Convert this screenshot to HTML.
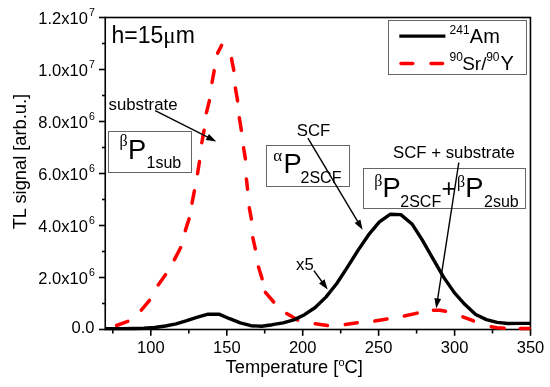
<!DOCTYPE html>
<html><head><meta charset="utf-8"><title>TL glow curves</title>
<style>
html,body{margin:0;padding:0;background:#fff;}
svg{display:block;}
text{font-family:"Liberation Sans", Arial, sans-serif;fill:#000;}
</style></head>
<body>
<svg width="550" height="387" viewBox="0 0 550 387">
<rect width="550" height="387" fill="#fff"/>
<defs><clipPath id="pc"><rect x="100" y="10" width="430.5" height="325"/></clipPath></defs>
<rect x="105.25" y="17.5" width="425.2" height="312.0" fill="none" stroke="#000" stroke-width="1.6"/>
<line x1="99.0" y1="329.5" x2="105.25" y2="329.5" stroke="#000" stroke-width="1.6"/>
<line x1="102.0" y1="303.5" x2="105.25" y2="303.5" stroke="#000" stroke-width="1.6"/>
<line x1="99.0" y1="277.5" x2="105.25" y2="277.5" stroke="#000" stroke-width="1.6"/>
<line x1="102.0" y1="251.5" x2="105.25" y2="251.5" stroke="#000" stroke-width="1.6"/>
<line x1="99.0" y1="225.5" x2="105.25" y2="225.5" stroke="#000" stroke-width="1.6"/>
<line x1="102.0" y1="199.5" x2="105.25" y2="199.5" stroke="#000" stroke-width="1.6"/>
<line x1="99.0" y1="173.5" x2="105.25" y2="173.5" stroke="#000" stroke-width="1.6"/>
<line x1="102.0" y1="147.5" x2="105.25" y2="147.5" stroke="#000" stroke-width="1.6"/>
<line x1="99.0" y1="121.5" x2="105.25" y2="121.5" stroke="#000" stroke-width="1.6"/>
<line x1="102.0" y1="95.5" x2="105.25" y2="95.5" stroke="#000" stroke-width="1.6"/>
<line x1="99.0" y1="69.5" x2="105.25" y2="69.5" stroke="#000" stroke-width="1.6"/>
<line x1="102.0" y1="43.5" x2="105.25" y2="43.5" stroke="#000" stroke-width="1.6"/>
<line x1="99.0" y1="17.5" x2="105.25" y2="17.5" stroke="#000" stroke-width="1.6"/>
<line x1="112.8" y1="329.5" x2="112.8" y2="333.5" stroke="#000" stroke-width="1.6"/>
<line x1="150.8" y1="329.5" x2="150.8" y2="335.8" stroke="#000" stroke-width="1.6"/>
<line x1="188.8" y1="329.5" x2="188.8" y2="333.5" stroke="#000" stroke-width="1.6"/>
<line x1="226.8" y1="329.5" x2="226.8" y2="335.8" stroke="#000" stroke-width="1.6"/>
<line x1="264.7" y1="329.5" x2="264.7" y2="333.5" stroke="#000" stroke-width="1.6"/>
<line x1="302.7" y1="329.5" x2="302.7" y2="335.8" stroke="#000" stroke-width="1.6"/>
<line x1="340.7" y1="329.5" x2="340.7" y2="333.5" stroke="#000" stroke-width="1.6"/>
<line x1="378.6" y1="329.5" x2="378.6" y2="335.8" stroke="#000" stroke-width="1.6"/>
<line x1="416.6" y1="329.5" x2="416.6" y2="333.5" stroke="#000" stroke-width="1.6"/>
<line x1="454.6" y1="329.5" x2="454.6" y2="335.8" stroke="#000" stroke-width="1.6"/>
<line x1="492.5" y1="329.5" x2="492.5" y2="333.5" stroke="#000" stroke-width="1.6"/>
<line x1="530.5" y1="329.5" x2="530.5" y2="335.8" stroke="#000" stroke-width="1.6"/>
<text x="87.9" y="23.5" text-anchor="end" font-size="16.5">1.2x10</text>
<text x="88.9" y="16.1" font-size="10.6">7</text>
<text x="87.9" y="75.5" text-anchor="end" font-size="16.5">1.0x10</text>
<text x="88.9" y="68.1" font-size="10.6">7</text>
<text x="87.9" y="127.5" text-anchor="end" font-size="16.5">8.0x10</text>
<text x="88.9" y="120.1" font-size="10.6">6</text>
<text x="87.9" y="179.5" text-anchor="end" font-size="16.5">6.0x10</text>
<text x="88.9" y="172.1" font-size="10.6">6</text>
<text x="87.9" y="231.5" text-anchor="end" font-size="16.5">4.0x10</text>
<text x="88.9" y="224.1" font-size="10.6">6</text>
<text x="87.9" y="283.5" text-anchor="end" font-size="16.5">2.0x10</text>
<text x="88.9" y="276.1" font-size="10.6">6</text>
<text x="94.5" y="332.8" text-anchor="end" font-size="16.5">0.0</text>
<text x="150.8" y="353.3" text-anchor="middle" font-size="16.5">100</text>
<text x="226.8" y="353.3" text-anchor="middle" font-size="16.5">150</text>
<text x="302.7" y="353.3" text-anchor="middle" font-size="16.5">200</text>
<text x="378.6" y="353.3" text-anchor="middle" font-size="16.5">250</text>
<text x="454.6" y="353.3" text-anchor="middle" font-size="16.5">300</text>
<text x="530.5" y="353.3" text-anchor="middle" font-size="16.5">350</text>
<text x="225.6" y="373" font-size="18.3">Temperature [<tspan font-size="11" dy="-7.5">o</tspan><tspan dy="7.5">C]</tspan></text>
<text transform="translate(25.6,229.3) rotate(-90)" x="0" y="0" font-size="18.3">TL signal [arb.u.]</text>
<text x="111.5" y="43" font-size="23">h=15<tspan style='font-family:"Liberation Serif", "Times New Roman", serif'>&#956;</tspan>m</text>
<rect x="388.5" y="20.5" width="138" height="54" fill="#fff" stroke="#666" stroke-width="1"/>
<line x1="399.3" y1="36.1" x2="445.4" y2="36.1" stroke="#000" stroke-width="3.4"/>
<line x1="401" y1="63.5" x2="412.8" y2="63.5" stroke="#f00" stroke-width="3.4" stroke-linecap="round"/>
<line x1="431" y1="63.5" x2="442.6" y2="63.5" stroke="#f00" stroke-width="3.4" stroke-linecap="round"/>
<text x="449.6" y="33.8" font-size="12">241</text>
<text x="469.8" y="42.8" font-size="20">Am</text>
<text x="449.6" y="60.6" font-size="12">90</text>
<text x="462.2" y="69.8" font-size="19">Sr/</text>
<text x="486.2" y="60.6" font-size="12">90</text>
<text x="500.6" y="69.8" font-size="20">Y</text>
<rect x="108.5" y="131.5" width="83" height="41" fill="none" stroke="#666" stroke-width="1"/>
<rect x="266.5" y="145.5" width="83" height="41" fill="none" stroke="#666" stroke-width="1"/>
<rect x="363.5" y="168.5" width="162" height="40" fill="none" stroke="#666" stroke-width="1"/>
<text x="119.5" y="146" font-size="16" style='font-family:"Liberation Serif", "Times New Roman", serif'>&#946;</text>
<text x="128" y="158.5" font-size="27.3">P</text>
<text x="146.5" y="167.7" font-size="16">1sub</text>
<text x="273.3" y="160.5" font-size="17" style='font-family:"Liberation Serif", "Times New Roman", serif'>&#945;</text>
<text x="283.5" y="172.6" font-size="27.3">P</text>
<text x="300.5" y="182.5" font-size="16">2SCF</text>
<text x="374.3" y="186" font-size="16" style='font-family:"Liberation Serif", "Times New Roman", serif'>&#946;</text>
<text x="382.5" y="196.8" font-size="27.3">P</text>
<text x="400.3" y="206.6" font-size="16">2SCF</text>
<text x="441.5" y="197" font-size="25">+</text>
<text x="457" y="186.5" font-size="16" style='font-family:"Liberation Serif", "Times New Roman", serif'>&#946;</text>
<text x="465.3" y="197.1" font-size="27.3">P</text>
<text x="484" y="206.6" font-size="16">2sub</text>
<text x="108.5" y="109.8" font-size="16.8">substrate</text>
<text x="296.8" y="135.8" font-size="16.8">SCF</text>
<text x="393" y="158.3" font-size="16.8">SCF + substrate</text>
<text x="296" y="269.8" font-size="16.8">x5</text>
<g clip-path="url(#pc)">
<polyline points="116.6,325.5 127.8,321.4" fill="none" stroke="#f00" stroke-width="3.5" stroke-linecap="round" stroke-linejoin="round"/>
<polyline points="141.3,310.2 149.5,300.3" fill="none" stroke="#f00" stroke-width="3.5" stroke-linecap="round" stroke-linejoin="round"/>
<polyline points="158.2,284.9 165.5,274.7" fill="none" stroke="#f00" stroke-width="3.5" stroke-linecap="round" stroke-linejoin="round"/>
<polyline points="174.4,259.6 180.6,247.7" fill="none" stroke="#f00" stroke-width="3.5" stroke-linecap="round" stroke-linejoin="round"/>
<polyline points="185.3,230.6 189.1,218.9" fill="none" stroke="#f00" stroke-width="3.5" stroke-linecap="round" stroke-linejoin="round"/>
<polyline points="194.4,190.8 192.0,203.2" fill="none" stroke="#f00" stroke-width="3.5" stroke-linecap="round" stroke-linejoin="round"/>
<polyline points="197.5,173.7 199.5,161.4" fill="none" stroke="#f00" stroke-width="3.5" stroke-linecap="round" stroke-linejoin="round"/>
<polyline points="201.8,142.7 204.1,130.3" fill="none" stroke="#f00" stroke-width="3.5" stroke-linecap="round" stroke-linejoin="round"/>
<polyline points="206.4,112.7 209.4,100.6" fill="none" stroke="#f00" stroke-width="3.5" stroke-linecap="round" stroke-linejoin="round"/>
<polyline points="212.0,82.5 214.2,70.6" fill="none" stroke="#f00" stroke-width="3.5" stroke-linecap="round" stroke-linejoin="round"/>
<polyline points="217.6,53.1 221.6,45.4" fill="none" stroke="#f00" stroke-width="3.5" stroke-linecap="round" stroke-linejoin="round"/>
<polyline points="231.5,58.6 233.8,70.4" fill="none" stroke="#f00" stroke-width="3.5" stroke-linecap="round" stroke-linejoin="round"/>
<polyline points="235.4,88.0 237.6,100.9" fill="none" stroke="#f00" stroke-width="3.5" stroke-linecap="round" stroke-linejoin="round"/>
<polyline points="239.3,117.8 241.4,130.4" fill="none" stroke="#f00" stroke-width="3.5" stroke-linecap="round" stroke-linejoin="round"/>
<polyline points="243.6,147.7 245.4,158.9" fill="none" stroke="#f00" stroke-width="3.5" stroke-linecap="round" stroke-linejoin="round"/>
<polyline points="246.4,178.9 247.6,189.3" fill="none" stroke="#f00" stroke-width="3.5" stroke-linecap="round" stroke-linejoin="round"/>
<polyline points="249.3,207.8 251.4,219.1" fill="none" stroke="#f00" stroke-width="3.5" stroke-linecap="round" stroke-linejoin="round"/>
<polyline points="252.8,237.7 255.3,248.9" fill="none" stroke="#f00" stroke-width="3.5" stroke-linecap="round" stroke-linejoin="round"/>
<polyline points="258.5,267.0 262.1,278.8" fill="none" stroke="#f00" stroke-width="3.5" stroke-linecap="round" stroke-linejoin="round"/>
<polyline points="265.4,292.4 273.7,302.0" fill="none" stroke="#f00" stroke-width="3.5" stroke-linecap="round" stroke-linejoin="round"/>
<polyline points="286.7,313.6 297.7,320.1" fill="none" stroke="#f00" stroke-width="3.5" stroke-linecap="round" stroke-linejoin="round"/>
<polyline points="315.2,323.7 327.4,325.4" fill="none" stroke="#f00" stroke-width="3.5" stroke-linecap="round" stroke-linejoin="round"/>
<polyline points="345.3,324.4 357.3,322.8" fill="none" stroke="#f00" stroke-width="3.5" stroke-linecap="round" stroke-linejoin="round"/>
<polyline points="374.8,321.1 387.0,319.1" fill="none" stroke="#f00" stroke-width="3.5" stroke-linecap="round" stroke-linejoin="round"/>
<polyline points="404.3,316.0 417.2,313.1" fill="none" stroke="#f00" stroke-width="3.5" stroke-linecap="round" stroke-linejoin="round"/>
<polyline points="433.4,310.3 440.0,310.2 445.5,311.3" fill="none" stroke="#f00" stroke-width="3.5" stroke-linecap="round" stroke-linejoin="round"/>
<polyline points="462.9,316.8 473.5,320.9" fill="none" stroke="#f00" stroke-width="3.5" stroke-linecap="round" stroke-linejoin="round"/>
<polyline points="491.2,326.7 497.0,327.8 504.2,328.3" fill="none" stroke="#f00" stroke-width="3.5" stroke-linecap="round" stroke-linejoin="round"/>
<polyline points="520.4,328.5 535.2,328.5" fill="none" stroke="#f00" stroke-width="3.5" stroke-linecap="round" stroke-linejoin="round"/>
<polyline points="105.3,328.6 111.9,328.6 122.6,328.6 133.3,328.5 144.0,328.3 154.7,327.5 165.4,326.0 176.1,323.8 186.8,320.7 197.5,317.2 208.2,314.2 218.9,314.1 229.6,318.7 240.3,322.9 251.0,325.7 261.7,326.3 272.4,324.7 283.1,322.8 293.8,319.9 304.5,314.7 315.2,307.5 325.9,297.1 336.6,283.8 347.3,267.4 358.0,250.4 368.7,234.7 379.4,221.9 390.1,214.3 400.8,214.6 412.3,224.3 422.2,239.9 432.9,258.6 443.6,277.1 454.3,292.6 465.0,304.6 475.7,314.5 486.4,319.6 497.1,322.4 507.8,323.5 518.5,323.4 531.0,323.4" fill="none" stroke="#000" stroke-width="3.4" stroke-linejoin="round"/>
</g>
<line x1="155.2" y1="110.6" x2="209.2" y2="137.9" stroke="#000" stroke-width="1.4"/>
<polygon points="216.3,141.5 205.8,140.0 208.9,134.0" fill="#000"/>
<line x1="307.9" y1="138.1" x2="358.5" y2="222.8" stroke="#000" stroke-width="1.4"/>
<polygon points="362.6,229.7 354.6,222.9 360.4,219.4" fill="#000"/>
<line x1="458.8" y1="162.5" x2="437.4" y2="300.6" stroke="#000" stroke-width="1.4"/>
<polygon points="436.2,308.5 434.4,298.1 441.1,299.1" fill="#000"/>
<line x1="313.9" y1="270.7" x2="322.9" y2="283.0" stroke="#000" stroke-width="1.4"/>
<polygon points="327.7,289.4 319.0,283.4 324.5,279.3" fill="#000"/>
</svg>
</body></html>
